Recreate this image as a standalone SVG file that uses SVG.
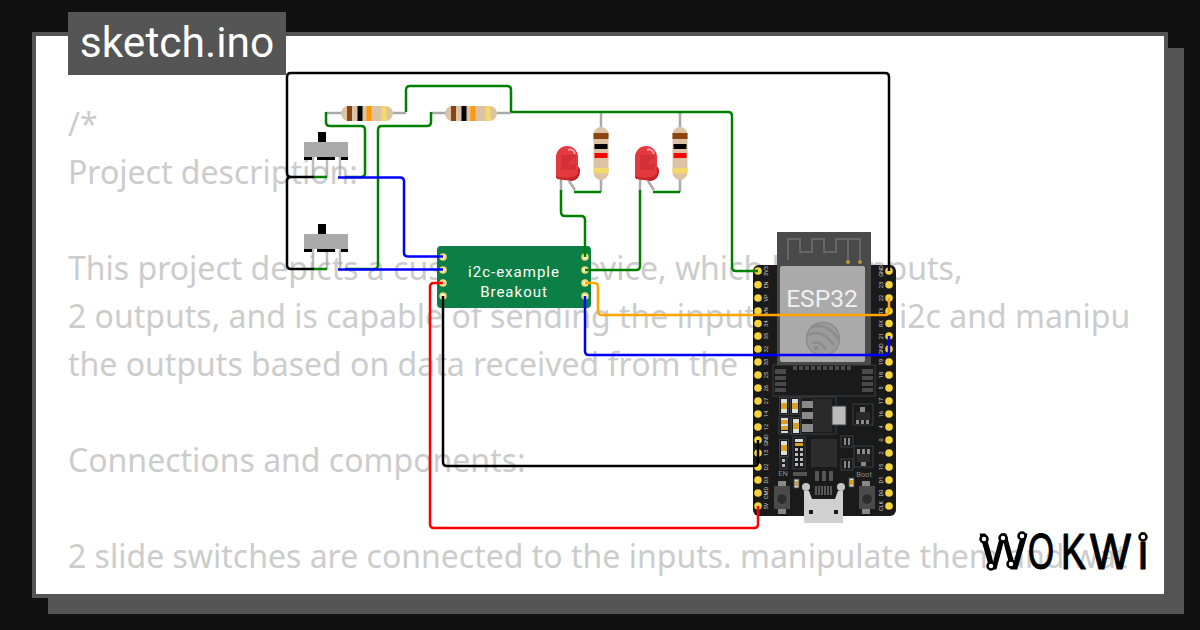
<svg xmlns="http://www.w3.org/2000/svg" xmlns:xlink="http://www.w3.org/1999/xlink" width="1200" height="630" viewBox="0 0 1200 630">
<style>
.code{font-family:"Noto Sans","Open Sans",sans-serif;font-size:32px;fill:#ccc}
.w{fill:none;stroke-width:2.5;stroke-linejoin:round;stroke-linecap:butt}
.g{stroke:#008000}.k{stroke:#000}.b{stroke:#0000ff}.r{stroke:#ff0000}.o{stroke:#ffa500}
.lead{stroke:#aaa;stroke-width:2.5;fill:none}
.pl{font-family:"Roboto","Liberation Sans",sans-serif;font-size:5.6px;fill:#ccc;text-anchor:middle}
.part{fill:#333;stroke:#3a3f42;stroke-width:1}
.ol{fill:none;stroke:#3a3f42;stroke-width:1}
.pad{fill:#8a8a8a}
.sm{fill:#4a4a4a}
.lab{font-family:"Roboto","Liberation Sans",sans-serif;font-size:7.5px;fill:#8c8c8c;text-anchor:middle}
.bo{font-family:Roboto,"Liberation Sans",sans-serif;font-size:15px;letter-spacing:1px;fill:#fff;text-anchor:middle}
</style>
<defs>
<circle id="pin" r="3.8" fill="#f5d33c"/>
<g id="pad2"><circle r="2.9" fill="#fff7d0" stroke="#efd77a" stroke-width="1.7"/></g>
<g id="sw">
<path class="lead" d="M9 24V45M23 24V45M36 24V45" stroke-opacity=".8"/>
<rect x="14" width="8" height="10" fill="#000"/>
<rect y="10" width="44" height="15" fill="#aaa"/>
<path d="M0 25h8v3h-8zM13 25h18v3h-18zM37 25h7v3h-7z" fill="#000"/>
</g>
<g id="res">
<rect x="0" y="0" width="52" height="15" rx="7.5" fill="#dcc3a5"/>
<rect x="6" width="5" height="15" fill="#8b4513"/>
<rect x="16.500" width="5" height="15" fill="#000"/>
<rect x="25.500" width="5" height="15" fill="#ff9a00"/>
<rect x="40.500" width="5" height="15" fill="#f4d86a"/>
</g>
<g id="res-v">
<rect x="-7.500" y="0" width="15" height="53" rx="7.5" fill="#dcc3a5"/>
<rect x="-7.500" y="6" width="15" height="6" fill="#8b4513"/>
<rect x="-6.500" y="17" width="13" height="5" fill="#000"/>
<rect x="-6.500" y="26" width="13" height="5" fill="#ff0000"/>
<rect x="-7.500" y="41" width="15" height="5.500" fill="#f4d86a"/>
</g>
<g id="led">
<path class="lead" d="M5 33V45M13 35L19 44"/>
<path d="M1 30V33L16 35Q24 33 24 25Q24 21 21 20V30Z" fill="#b81c22"/>
<path d="M0 32V11A11 11 0 0 1 22 11V27Q22 30 19 32Q10 35 0 32Z" fill="#e5383f"/>
<path d="M0 31Q10 34 19 31L21 29" fill="none" stroke="#c8242a" stroke-width="1.5"/>
<path d="M5 9H20V24H5Z" fill="#cc3036" opacity=".8"/>
<path d="M12 18L19 11V18Z" fill="#e5383f"/>
<path d="M12 4Q17 2 19 8" fill="none" stroke="#f4a0a4" stroke-width="2"/>
</g>
<g id="cap"><rect x="-.5" y="-.5" width="9" height="17" class="ol"/><rect x="1" y="1" width="6" height="14" fill="#ddd"/><rect x="1" y="5" width="6" height="6" fill="#d8a020"/></g>
</defs>

<rect width="1200" height="630" fill="#111"/>
<rect x="48" y="48" width="1136" height="566" fill="#555"/>
<rect x="34" y="34" width="1132" height="562" fill="#fff" stroke="#555" stroke-width="4"/>
<g id="code-text">
<text class="code" x="68" y="136">/*</text>
<text class="code" x="68" y="184">Project description:</text>
<text class="code" x="68" y="280">This project depicts a custom i2c device, which has 2 inputs,</text>
<text class="code" x="68" y="328">2 outputs, and is capable of sending the inputs over <tspan x="899">i2c and manipu</tspan></text>
<text class="code" x="68" y="376">the outputs based on data received from the</text>
<text class="code" x="68" y="472">Connections and components:</text>
<text class="code" x="68" y="568">2 slide switches are connected to the inputs. manipulate them and wat</text>
</g>
<g id="tab">
<rect x="68" y="12" width="218" height="63" fill="#555"/>
<text x="177" y="57" text-anchor="middle" font-family="Roboto,'Liberation Sans',sans-serif" font-size="42.500" fill="#fff">sketch.ino</text>
</g>

<g id="sw1"><use xlink:href="#sw" href="#sw" x="304" y="132"/></g>
<g id="sw2"><use xlink:href="#sw" href="#sw" x="304" y="224"/></g>
<g id="r1"><path class="lead" d="M326 113H406"/><use href="#res" x="341" y="106"/></g>
<g id="r2"><path class="lead" d="M431 113H511"/><use href="#res" x="445" y="106"/></g>
<g id="r3"><path class="lead" d="M601 112V192"/><use href="#res-v" x="601" y="127"/></g>
<g id="r4"><path class="lead" d="M680 112V192"/><use href="#res-v" x="680" y="127"/></g>
<g id="led1"><use href="#led" x="556" y="146"/></g>
<g id="led2"><use href="#led" x="635" y="146"/></g>

<g id="breakout">
<rect x="437" y="246" width="154" height="62" rx="4" fill="#0b7f45"/>
<text class="bo" x="514" y="277">i2c-example</text>
<text class="bo" x="514" y="297">Breakout</text>
<use href="#pad2" x="443" y="257"/><use href="#pad2" x="443" y="270"/><use href="#pad2" x="443" y="283"/><use href="#pad2" x="443" y="296"/>
<use href="#pad2" x="585" y="257"/><use href="#pad2" x="585" y="270"/><use href="#pad2" x="585" y="283"/><use href="#pad2" x="585" y="296"/>
</g>

<g id="esp32">
<rect x="753" y="265" width="143" height="251" rx="6" fill="#1a1a1a"/>
<rect x="777" y="232" width="94" height="133" fill="#4a4a4a"/>
<path d="M788 260V239H800V252H812V239H824V252H836V239H860V262M848 239V262" fill="none" stroke="#666" stroke-width="2"/>
<circle cx="848" cy="262" r="2" fill="#b8963c"/><circle cx="860" cy="262" r="2" fill="#b8963c"/>
<rect x="780" y="266" width="85" height="96" rx="2" fill="#aaa"/>
<text x="822" y="307" text-anchor="middle" font-family="Roboto,'Liberation Sans',sans-serif" font-size="24.600" fill="#f0f0f0">ESP32</text>
<g fill="none" stroke="#8c8c8c">
<circle cx="823" cy="339" r="16.500" fill="#9c9c9c" stroke-width="1.500"/>
<path d="M808 335Q822 328 834 345M811 327Q828 322 839 340M812 343Q820 340 826 350" stroke-width="2.500"/>
</g>
<circle cx="816" cy="348" r="2.500" fill="#8c8c8c"/>
<rect x="773" y="365" width="102" height="31" class="ol"/>
<g class="sm">
<path d="M793 366h4v4h-4zM799 366h4v4h-4zM805 366h4v4h-4zM811 366h4v4h-4zM817 366h4v4h-4zM823 366h4v4h-4zM829 366h4v4h-4zM835 366h4v4h-4zM841 366h4v4h-4zM847 366h4v4h-4z"/>
<path d="M775 369h11v5h-11zM775 376h11v4h-11zM775 382h11v4h-11zM775 388h11v4h-11zM862 369h11v5h-11zM862 376h11v4h-11zM862 382h11v4h-11zM862 388h11v4h-11z"/>
</g>
<use href="#cap" x="780" y="398"/><use href="#cap" x="791" y="398"/>
<use href="#cap" x="792" y="418"/><use href="#cap" x="780" y="440"/>
<rect x="779" y="417" width="11" height="17" class="ol"/>
<g fill="#ddd"><rect x="781" y="418" width="7" height="2"/><rect x="781" y="424" width="7" height="2"/><rect x="781" y="431" width="7" height="2"/></g>
<rect x="781" y="420" width="7" height="4" fill="#d8a020"/><rect x="781" y="426" width="7" height="4" fill="#d8a020"/>
<path d="M801 397H836V434H801Z" class="ol"/>
<rect x="812" y="399" width="20" height="33" fill="#2a2a2a"/>
<g class="pad"><rect x="802" y="401" width="11" height="7"/><rect x="802" y="412" width="11" height="7"/><rect x="802" y="424" width="11" height="8"/></g>
<rect x="832" y="406" width="14" height="19" fill="#bbb" stroke="#3a3f42"/>
<rect x="853" y="404" width="20" height="21" class="ol"/>
<rect x="856" y="412" width="14" height="8" fill="#2a2a2a"/><path d="M860 407h5v5h-5z" fill="#888"/>
<g class="pad"><rect x="856" y="420" width="3" height="4"/><rect x="861" y="420" width="3" height="4"/><rect x="866" y="420" width="3" height="4"/></g>
<rect x="811" y="439" width="26" height="28" fill="#2c2c2c"/>
<rect x="793" y="437" width="12" height="32" class="ol"/>
<rect x="795" y="439" width="8" height="3" fill="#ddd"/><rect x="795" y="443" width="8" height="3" fill="#d8a020"/>
<g fill="#bbb"><path d="M795 448h3v3h-3zM800 448h3v3h-3zM795 453h3v3h-3zM800 453h3v3h-3zM795 458h3v3h-3zM800 458h3v3h-3zM795 463h3v3h-3zM800 463h3v3h-3z"/></g>
<rect x="841" y="436" width="12" height="11" class="ol"/><rect x="841" y="459" width="12" height="11" class="ol"/>
<g fill="#888"><path d="M844 438h2v7h-2zM848 438h2v7h-2zM844 461h2v7h-2zM848 461h2v7h-2z"/></g>
<rect x="854" y="446" width="19" height="21" class="ol"/>
<rect x="857" y="454" width="13" height="8" fill="#2a2a2a"/><path d="M861 462h5v4h-5z" fill="#888"/>
<g class="pad"><rect x="857" y="449" width="3" height="5"/><rect x="862" y="449" width="3" height="5"/><rect x="867" y="449" width="3" height="5"/></g>
<rect x="780" y="457" width="7" height="12" class="ol"/><path d="M782 459h3v3h-3zM782 464h3v3h-3z" fill="#bbb"/>
<text class="lab" x="783" y="476">EN</text><text class="lab" x="864" y="477">Boot</text>
<rect x="793" y="472" width="14" height="4" fill="#555"/>
<g fill="#555"><rect x="815" y="471" width="4" height="10"/><rect x="822" y="471" width="4" height="10"/><rect x="829" y="471" width="4" height="10"/></g>
<rect x="794" y="479" width="5" height="9" fill="#ddd" stroke="#3a3f42"/><rect x="795" y="481" width="3" height="5" fill="#d8a020"/>
<rect x="849" y="478" width="5" height="9" fill="#ddd" stroke="#3a3f42"/><rect x="850" y="480" width="3" height="5" fill="#d8a020"/>
<g id="btn-en"><rect x="778" y="481" width="8" height="33" fill="#888"/><rect x="774" y="486" width="16" height="23" fill="#4a4a4a"/><circle cx="782" cy="499" r="5.500" fill="#2e2e2e" stroke="#555"/></g>
<g id="btn-boot"><rect x="862" y="481" width="8" height="33" fill="#888"/><rect x="859" y="486" width="16" height="23" fill="#4a4a4a"/><circle cx="867" cy="499" r="5.500" fill="#2e2e2e" stroke="#555"/></g>
<path d="M816 486v9M819 486v9M822 486v9M825 486v9M828 486v9M831 486v9" stroke="#999" stroke-width="1"/>
<circle cx="806" cy="487" r="4" fill="#c4c4c4"/><circle cx="841" cy="487" r="4" fill="#c4c4c4"/>
<path d="M804 491H809L812 499H835L838 491H843V523H804Z" fill="#d0d0d0"/>
<rect x="809" y="510" width="4" height="4" fill="#1a1a1a"/><rect x="834" y="510" width="4" height="4" fill="#1a1a1a"/>
<g id="pins-l">
<use href="#pin" x="758" y="271"/><use href="#pin" x="758" y="284.700"/><use href="#pin" x="758" y="298"/><use href="#pin" x="758" y="311"/><use href="#pin" x="758" y="323.500"/><use href="#pin" x="758" y="336"/><use href="#pin" x="758" y="349"/><use href="#pin" x="758" y="362"/><use href="#pin" x="758" y="375"/><use href="#pin" x="758" y="388"/><use href="#pin" x="758" y="401"/><use href="#pin" x="758" y="414"/><use href="#pin" x="758" y="427"/><use href="#pin" x="758" y="440"/><use href="#pin" x="758" y="453"/><use href="#pin" x="758" y="467"/><use href="#pin" x="758" y="480"/><use href="#pin" x="758" y="493"/><use href="#pin" x="758" y="506"/>
</g>
<g id="pins-r">
<use href="#pin" x="889" y="271"/><use href="#pin" x="889" y="284.700"/><use href="#pin" x="889" y="298"/><use href="#pin" x="889" y="311"/><use href="#pin" x="889" y="323.500"/><use href="#pin" x="889" y="336"/><use href="#pin" x="889" y="349"/><use href="#pin" x="889" y="362"/><use href="#pin" x="889" y="375"/><use href="#pin" x="889" y="388"/><use href="#pin" x="889" y="401"/><use href="#pin" x="889" y="414"/><use href="#pin" x="889" y="427"/><use href="#pin" x="889" y="440"/><use href="#pin" x="889" y="453"/><use href="#pin" x="889" y="467"/><use href="#pin" x="889" y="480"/><use href="#pin" x="889" y="493"/><use href="#pin" x="889" y="506"/>
</g>
<g id="labels-l">
<text class="pl" transform="translate(768 271) rotate(-90)">3V3</text>
<text class="pl" transform="translate(768 285) rotate(-90)">EN</text>
<text class="pl" transform="translate(768 298) rotate(-90)">VP</text>
<text class="pl" transform="translate(768 311) rotate(-90)">VN</text>
<text class="pl" transform="translate(768 323.500) rotate(-90)">34</text>
<text class="pl" transform="translate(768 336) rotate(-90)">35</text>
<text class="pl" transform="translate(768 349) rotate(-90)">32</text>
<text class="pl" transform="translate(768 362) rotate(-90)">33</text>
<text class="pl" transform="translate(768 375) rotate(-90)">25</text>
<text class="pl" transform="translate(768 388) rotate(-90)">26</text>
<text class="pl" transform="translate(768 401) rotate(-90)">27</text>
<text class="pl" transform="translate(768 414) rotate(-90)">14</text>
<text class="pl" transform="translate(768 427) rotate(-90)">12</text>
<text class="pl" transform="translate(768 440) rotate(-90)">GND</text>
<text class="pl" transform="translate(768 453) rotate(-90)">13</text>
<text class="pl" transform="translate(768 467) rotate(-90)">D2</text>
<text class="pl" transform="translate(768 480) rotate(-90)">D3</text>
<text class="pl" transform="translate(768 493) rotate(-90)">CMD</text>
<text class="pl" transform="translate(768 506) rotate(-90)">5V</text>
</g>
<g id="labels-r">
<text class="pl" transform="translate(883 271) rotate(-90)">GND</text>
<text class="pl" transform="translate(883 285) rotate(-90)">23</text>
<text class="pl" transform="translate(883 298) rotate(-90)">22</text>
<text class="pl" transform="translate(883 311) rotate(-90)">TX</text>
<text class="pl" transform="translate(883 323.500) rotate(-90)">RX</text>
<text class="pl" transform="translate(883 336) rotate(-90)">21</text>
<text class="pl" transform="translate(883 349) rotate(-90)">GND</text>
<text class="pl" transform="translate(883 362) rotate(-90)">19</text>
<text class="pl" transform="translate(883 375) rotate(-90)">18</text>
<text class="pl" transform="translate(883 388) rotate(-90)">5</text>
<text class="pl" transform="translate(883 401) rotate(-90)">17</text>
<text class="pl" transform="translate(883 414) rotate(-90)">16</text>
<text class="pl" transform="translate(883 427) rotate(-90)">4</text>
<text class="pl" transform="translate(883 440) rotate(-90)">0</text>
<text class="pl" transform="translate(883 453) rotate(-90)">2</text>
<text class="pl" transform="translate(883 467) rotate(-90)">15</text>
<text class="pl" transform="translate(883 480) rotate(-90)">D1</text>
<text class="pl" transform="translate(883 493) rotate(-90)">D0</text>
<text class="pl" transform="translate(883 506) rotate(-90)">CLK</text>
</g>
</g>

<g id="connectors">
<path class="w g" d="M326 112V122Q326 126 330 126H361Q365 126 365 130V173Q365 177 361 177H345"/>
<path class="w g" d="M431 112V122Q431 126 427 126H382Q378 126 378 130V265Q378 269 374 269H345"/>
<path class="w g" d="M406 112V90Q406 86 410 86H507Q511 86 511 90V112"/>
<path class="w g" d="M511 112H728Q732 112 732 116V267Q732 271 736 271H758"/>
<path class="w g" d="M314 177H327M314 269H327"/>
<path class="w k" d="M314 177H291Q287 177 287 173V77Q287 73 291 73H885Q889 73 889 77V271"/>
<path class="w k" d="M314 269H291Q287 269 287 265V181Q287 177 291 177"/>
<path class="w b" d="M338 177.500H400Q404 177.500 404 181.500V252.500Q404 256.500 408 256.500H443"/>
<path class="w b" d="M338 269.500H443"/>
<path class="w g" d="M574 192H601M653 192H680"/>
<path class="w g" d="M561 190V212Q561 216 565 216H581Q585 216 585 220V257"/>
<path class="w g" d="M640 190V266Q640 270 636 270H585"/>
<path class="w r" d="M443 283H434Q430 283 430 287V524Q430 528 434 528H754Q758 528 758 524V506"/>
<path class="w k" d="M443 296V462Q443 466 447 466H754Q758 466 758 462V440"/>
<path class="w o" d="M585 283H594Q598 283 598 287V311Q598 315 602 315H885Q889 315 889 311V298"/>
<path class="w b" d="M585 296V351Q585 355 589 355H885Q889 355 889 351V336"/>
</g>

<g id="wokwi">
<text y="569" font-family="'Liberation Sans',sans-serif" font-size="50" fill="#000" stroke="#000" stroke-width="1.200" stroke-linejoin="round"><tspan x="980" textLength="47" lengthAdjust="spacingAndGlyphs">W</tspan><tspan x="1028" textLength="26" lengthAdjust="spacingAndGlyphs">O</tspan><tspan x="1061" textLength="25" lengthAdjust="spacingAndGlyphs">K</tspan><tspan x="1090" textLength="41" lengthAdjust="spacingAndGlyphs">W</tspan><tspan x="1138" textLength="10" lengthAdjust="spacingAndGlyphs">i</tspan></text>
<g fill="#fff" stroke="#000" stroke-width="2.500">
<circle cx="984" cy="539" r="3.500"/><circle cx="1003" cy="538" r="3.500"/><circle cx="1022" cy="536" r="3.500"/><circle cx="991" cy="566" r="3.500"/><circle cx="1011" cy="564" r="3.500"/><circle cx="1143" cy="537" r="3.500"/>
</g>
</g>
</svg>
